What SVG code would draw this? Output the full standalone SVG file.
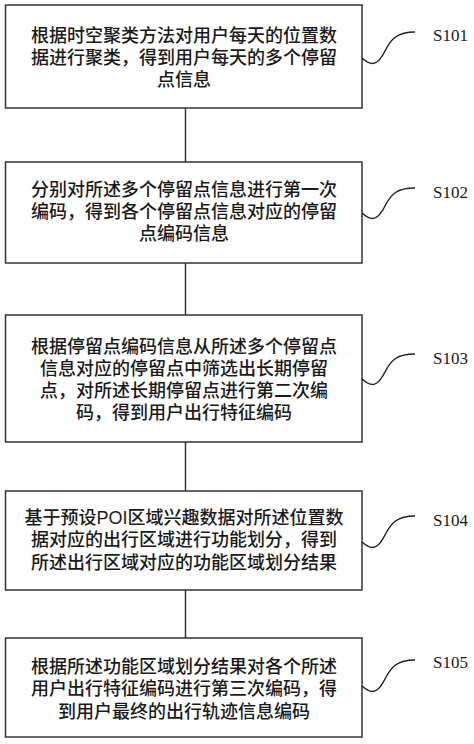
<svg xmlns="http://www.w3.org/2000/svg" width="474" height="744" viewBox="0 0 474 744">
<style>
.box{fill:#fff;stroke:#333;stroke-width:1.5}
.t{font-family:"Liberation Sans","Noto Sans CJK SC",sans-serif;font-size:18px;font-weight:500;fill:#1a1a1a;text-anchor:middle}
.lbl{font-family:"Liberation Serif",serif;font-size:17px;fill:#1a1a1a}
.conn{stroke:#333;stroke-width:1.5;fill:none}
.wave{stroke:#222;stroke-width:1.5;fill:none}
</style>
<rect width="474" height="744" fill="#fff"/>
<g id="connectors">
<line class="conn" x1="185.5" y1="108" x2="185.5" y2="162"/>
<line class="conn" x1="185.5" y1="263" x2="185.5" y2="315"/>
<line class="conn" x1="185.5" y1="442" x2="185.5" y2="491"/>
<line class="conn" x1="185.5" y1="590" x2="185.5" y2="638"/>
</g>
<g id="S101">
<rect class="box" x="5.5" y="5" width="356.5" height="103"/>
<text class="t"><tspan x="184" y="42">根据时空聚类方法对用户每天的位置数</tspan><tspan x="184" y="64">据进行聚类，得到用户每天的多个停留</tspan><tspan x="184" y="86">点信息</tspan></text>
<path class="wave" d="M362,58 C372,67 378,65 385,51 C391,39 397,32 415,32"/>
<text class="lbl" x="433" y="41">S101</text>
</g>
<g id="S102">
<rect class="box" x="5.5" y="162" width="356.5" height="101"/>
<text class="t"><tspan x="184" y="196">分别对所述多个停留点信息进行第一次</tspan><tspan x="184" y="218">编码，得到各个停留点信息对应的停留</tspan><tspan x="184" y="240">点编码信息</tspan></text>
<path class="wave" d="M362,213 C372,222 378,220 385,206 C391,194 397,188 415,188"/>
<text class="lbl" x="433" y="198">S102</text>
</g>
<g id="S103">
<rect class="box" x="5.5" y="315" width="356.5" height="127"/>
<text class="t"><tspan x="184" y="353">根据停留点编码信息从所述多个停留点</tspan><tspan x="184" y="375">信息对应的停留点中筛选出长期停留</tspan><tspan x="184" y="397">点，对所述长期停留点进行第二次编</tspan><tspan x="184" y="419">码，得到用户出行特征编码</tspan></text>
<path class="wave" d="M362,379 C372,388 378,386 385,372 C391,360 397,354 415,354"/>
<text class="lbl" x="433" y="364">S103</text>
</g>
<g id="S104">
<rect class="box" x="5.5" y="491" width="356.5" height="99"/>
<text class="t"><tspan x="184" y="524">基于预设POI区域兴趣数据对所述位置数</tspan><tspan x="184" y="546">据对应的出行区域进行功能划分，得到</tspan><tspan x="184" y="569">所述出行区域对应的功能区域划分结果</tspan></text>
<path class="wave" d="M362,542 C372,551 378,549 385,535 C391,523 397,516 415,516"/>
<text class="lbl" x="433" y="526">S104</text>
</g>
<g id="S105">
<rect class="box" x="5.5" y="638" width="356.5" height="99"/>
<text class="t"><tspan x="184" y="673">根据所述功能区域划分结果对各个所述</tspan><tspan x="184" y="695">用户出行特征编码进行第三次编码，得</tspan><tspan x="184" y="718">到用户最终的出行轨迹信息编码</tspan></text>
<path class="wave" d="M362,686 C372,695 378,693 385,679 C391,667 397,660 415,660"/>
<text class="lbl" x="433" y="668">S105</text>
</g>
</svg>
